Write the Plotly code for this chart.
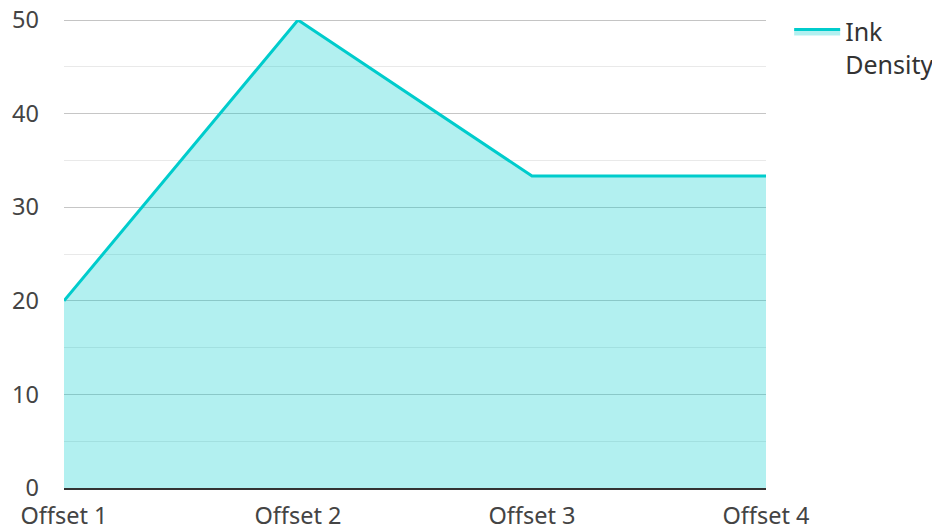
import plotly.graph_objects as go

categories = ["Offset 1", "Offset 2", "Offset 3", "Offset 4"]
ink_density = [20, 50, 33.33, 33.33]
series_name = "Ink<br>Density"
y_max = 50

fig = go.Figure()
fig.add_trace(go.Scatter(
    x=categories, y=ink_density, name=series_name,
    mode="lines", fill="tozeroy", cliponaxis=False,
    line=dict(color="#00cccc", width=3),
    fillcolor="rgba(0,204,204,0.3)",
))

# top gridline (plotly drops the gridline lying on the range edge)
fig.add_hline(y=y_max, line=dict(color="#c4c4c4", width=2), layer="below")

# page body has an 8px margin, so the figure is sized/offset to compensate
fig.update_layout(
    width=932, height=521,
    margin=dict(l=56, r=174, t=12, b=41, autoexpand=False),
    paper_bgcolor="white", plot_bgcolor="white",
    font=dict(family="Noto Sans", size=24, color="#444"),
    showlegend=True,
    legend=dict(x=1.033, y=1.024, xanchor="left", yanchor="top", valign="top",
                itemwidth=46,
                font=dict(size=25, color="#333"), bgcolor="rgba(0,0,0,0)"),
    xaxis=dict(range=[0, 3], showgrid=False, showline=True, linecolor="#333",
               linewidth=2, ticks="", layer="above traces", automargin=False,
               ticklabelstandoff=6, ticklabeloverflow="allow",
               tickfont=dict(size=23.5, color="#444")),
    yaxis=dict(range=[0, y_max], dtick=10, showgrid=True, gridcolor="rgba(160,160,160,0.6)",
               gridwidth=1, zeroline=False, showline=False, ticks="",
               layer="above traces", automargin=False, ticklabelstandoff=24,
               ticklabeloverflow="allow",
               minor=dict(dtick=5, showgrid=True, gridcolor="rgba(200,200,200,0.4)", gridwidth=1),
               tickfont=dict(size=23.5, color="#444")),
)

fig.write_html("out.html")
